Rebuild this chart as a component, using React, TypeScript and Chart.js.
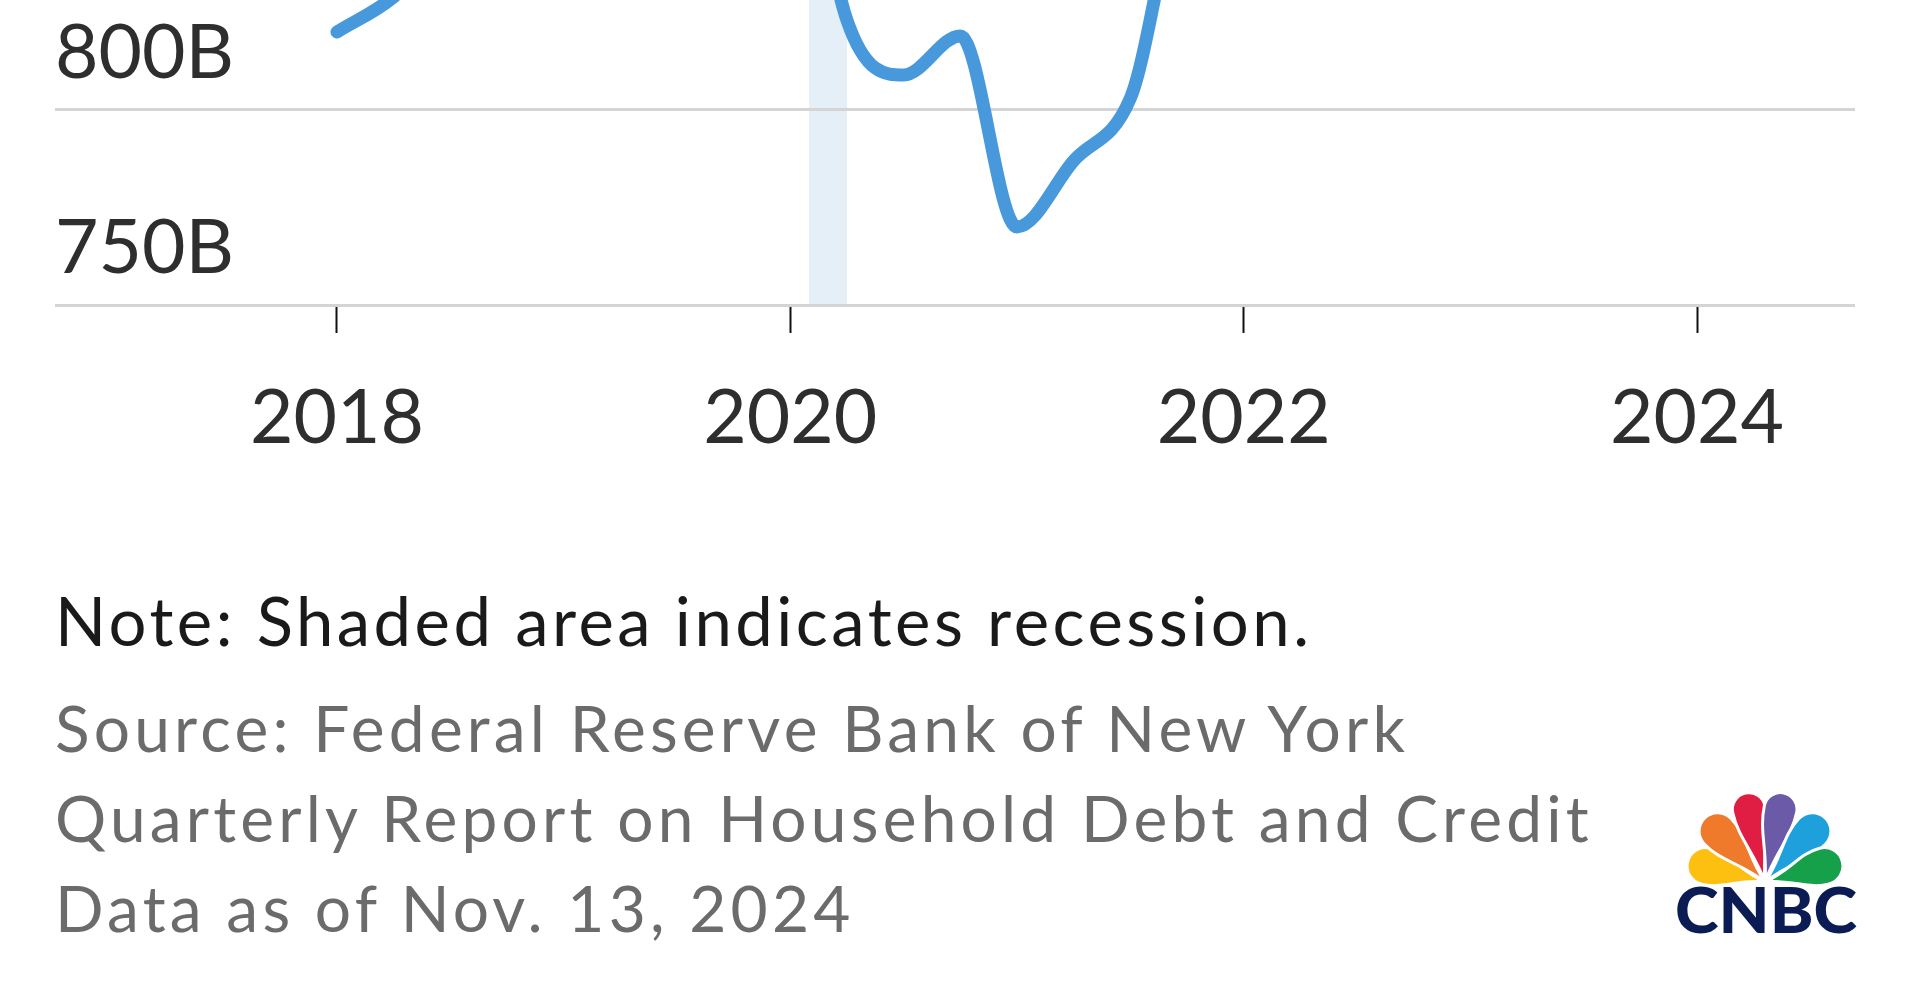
import React, { useEffect, useRef } from "react";
import { Chart, registerables } from "chart.js";

Chart.register(...registerables);

// Credit card balances (billions of dollars), quarterly
const quarters = [
  "2018Q1", "2018Q2", "2018Q3", "2018Q4",
  "2019Q1", "2019Q2", "2019Q3", "2019Q4",
  "2020Q1", "2020Q2", "2020Q3", "2020Q4",
  "2021Q1", "2021Q2", "2021Q3", "2021Q4",
  "2022Q1", "2022Q2", "2022Q3", "2022Q4",
  "2023Q1", "2023Q2", "2023Q3", "2023Q4",
  "2024Q1", "2024Q2", "2024Q3",
];
const balancesB = [
  820, 829, 844, 870,
  848, 868, 881, 927,
  893, 823, 809, 819,
  770, 787, 803, 856,
  841, 887, 925, 986,
  986, 1031, 1079, 1129,
  1115, 1142, 1166,
];
const xTickYears = [2018, 2020, 2022, 2024];
const yTickValues = [750, 800];
const recessionSpan = [2020.083, 2020.25];
const xRange = [2016.756, 2024.697];
const yRange = [750, 828.2];

const noteText = "Note: Shaded area indicates recession.";
const sourceLines = [
  "Source: Federal Reserve Bank of New York",
  "Quarterly Report on Household Debt and Credit",
  "Data as of Nov. 13, 2024",
];

const feathers = [
  { color: "#fdc010", angle: -75, len: 80, r: 18.5 },
  { color: "#f07a2c", angle: -43, len: 88, r: 18.5 },
  { color: "#e01e43", angle: -12.5, len: 91, r: 16.5 },
  { color: "#6a5aa8", angle: 12, len: 91, r: 16.5 },
  { color: "#1ea0dc", angle: 43, len: 88, r: 18.5 },
  { color: "#17a04a", angle: 75, len: 80, r: 18.5 },
];

const quarterToYear = (q: string) => {
  const year = parseInt(q.slice(0, 4), 10);
  const qn = parseInt(q.slice(5), 10);
  return year + (qn - 1) / 4;
};

const FONT = "Lato, 'Open Sans', sans-serif";

const recessionPlugin = {
  id: "recessionBand",
  beforeDraw(chart: any) {
    const { ctx, chartArea, scales } = chart;
    const x = scales.x;
    const x0 = x.getPixelForValue(recessionSpan[0]);
    const x1 = x.getPixelForValue(recessionSpan[1]);
    ctx.save();
    ctx.fillStyle = "#e4eff8";
    ctx.fillRect(x0, chartArea.top, x1 - x0, chartArea.bottom - chartArea.top);
    ctx.restore();
  },
};

function featherPath(len: number, r: number) {
  const c = len - r;
  return `M 0 0 C ${-r * 0.25} ${-len * 0.35}, ${-r} ${-c * 0.65}, ${-r} ${-c} A ${r} ${r} 0 0 1 ${r} ${-c} C ${r} ${-c * 0.65}, ${r * 0.25} ${-len * 0.35}, 0 0 Z`;
}

export default function App() {
  const canvasRef = useRef<HTMLCanvasElement>(null);

  useEffect(() => {
    const canvas = canvasRef.current;
    if (!canvas) return;
    const points = quarters.map((q, i) => ({ x: quarterToYear(q), y: balancesB[i] }));
    const chart = new Chart(canvas, {
      type: "line",
      data: {
        datasets: [
          {
            data: points,
            borderColor: "#4799db",
            borderWidth: 13,
            pointRadius: 0,
            cubicInterpolationMode: "monotone",
            borderCapStyle: "round",
            borderJoinStyle: "round",
            fill: false,
          },
        ],
      },
      options: {
        animation: false,
        responsive: false,
        maintainAspectRatio: false,
        layout: { padding: { left: 55, right: 55, top: 0, bottom: 0 } },
        plugins: {
          legend: { display: false },
          tooltip: { enabled: false },
        },
        scales: {
          x: {
            type: "linear",
            min: xRange[0],
            max: xRange[1],
            afterBuildTicks: (s: any) => {
              s.ticks = xTickYears.map((v) => ({ value: v }));
            },
            afterFit: (s: any) => {
              s.height = 150;
            },
            grid: {
              display: true,
              drawOnChartArea: false,
              drawTicks: true,
              tickLength: 28,
              tickWidth: 2,
              tickColor: "#111",
            },
            border: { display: false },
            ticks: {
              autoSkip: false,
              maxRotation: 0,
              padding: 41,
              color: "#2e2e2e",
              font: { family: FONT, size: 75 },
              callback: (v: any) => String(v),
            },
          },
          y: {
            type: "linear",
            min: yRange[0],
            max: yRange[1],
            afterBuildTicks: (s: any) => {
              s.ticks = yTickValues.map((v) => ({ value: v }));
            },
            afterFit: (s: any) => {
              s.width = 0;
              s.paddingTop = 0;
              s.paddingBottom = 0;
            },
            grid: {
              color: "#d4d4d4",
              lineWidth: 3,
              drawTicks: false,
            },
            border: { display: false },
            ticks: {
              mirror: true,
              padding: 0,
              labelOffset: -56,
              color: "#2e2e2e",
              font: { family: FONT, size: 75 },
              callback: (v: any) => `${v}B`,
            },
          },
        },
      },
      plugins: [recessionPlugin],
    } as any);
    return () => chart.destroy();
  }, []);

  return (
    <div
      style={{
        position: "fixed",
        left: 0,
        top: 0,
        width: 1910,
        height: 1000,
        background: "#fff",
        overflow: "hidden",
        fontFamily: FONT,
      }}
    >
      <canvas
        ref={canvasRef}
        width={1910}
        height={455}
        style={{ position: "absolute", left: 0, top: 0, width: 1910, height: 455 }}
      />
      <div
        style={{
          position: "absolute",
          left: 55,
          top: 575,
          fontSize: 67,
          lineHeight: "90px",
          letterSpacing: "3.5px",
          color: "#1a1a1a",
          whiteSpace: "nowrap",
        }}
      >
        {noteText}
      </div>
      <div
        style={{
          position: "absolute",
          left: 55,
          top: 683,
          fontSize: 64,
          lineHeight: "90px",
          letterSpacing: "4.2px",
          color: "#6b6b6b",
          whiteSpace: "nowrap",
        }}
      >
        {sourceLines.map((l) => (
          <div key={l}>{l}</div>
        ))}
      </div>
      <svg
        width={210}
        height={170}
        viewBox="0 0 210 170"
        style={{ position: "absolute", left: 1660, top: 780 }}
      >
        <g transform="translate(105 102)">
          {feathers.map((f) => (
            <path
              key={f.color}
              d={featherPath(f.len, f.r)}
              transform={`rotate(${f.angle})`}
              fill={f.color}
              stroke="#fff"
              strokeWidth={3}
            />
          ))}
        </g>
        <text
          x={106}
          y={153}
          textAnchor="middle"
          fontFamily={FONT}
          fontWeight={900}
          fontSize={62}
          fill="#0b1c55"
          textLength={182}
          lengthAdjust="spacingAndGlyphs"
        >
          CNBC
        </text>
      </svg>
    </div>
  );
}
